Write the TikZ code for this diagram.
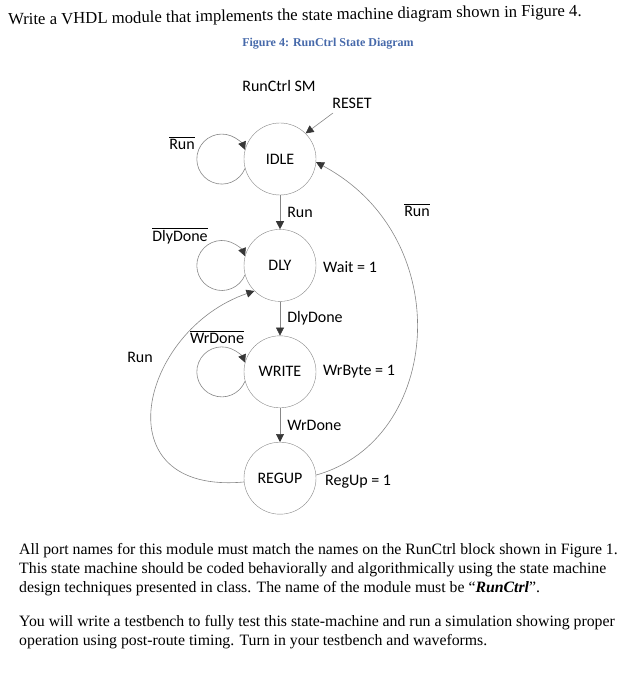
\documentclass[tikz,border=0pt]{standalone}
\usepackage{amsmath}
\usepackage{fontspec}
\setmainfont{Liberation Serif}
\newfontfamily\diagfont{Carlito}
\usetikzlibrary{arrows.meta,positioning}
\definecolor{figblue}{RGB}{70,105,170}
\definecolor{linegray}{RGB}{135,135,135}
\definecolor{tipgray}{RGB}{55,55,55}
\newcommand{\negsig}[1]{\ensuremath{\overline{\mbox{#1}}}}

\begin{document}
\begin{tikzpicture}[x=1pt, y=1pt,
  state/.style={draw=linegray, circle, minimum size=72pt, inner sep=0pt,
                font=\diagfont\fontsize{16}{19}\selectfont},
  lbl/.style={font=\diagfont\fontsize{16}{19}\selectfont, inner sep=1pt},
  arr/.style={draw=linegray, line width=0.6pt,
              -{Triangle[length=8pt, width=8pt, color=tipgray]}},
  prose/.style={font=\fontsize{15.8}{19.3}\selectfont, align=left, inner sep=0pt},
  node distance=34pt
]
\useasboundingbox (0,0) rectangle (629,-700);

% Task text
\node[anchor=west, rotate=0.9, font=\fontsize{16.7}{20}\selectfont, inner sep=0pt]
  (task) at (8,-21) {Write a VHDL module that implements the state machine diagram shown in Figure 4.};
\node[font=\bfseries\fontsize{12}{14}\selectfont, text=figblue] (cap) at (328,-44)
  {Figure 4: RunCtrl State Diagram};

% States
\node[lbl] (title) at (279,-86) {RunCtrl SM};
\node[state] (idle) at (280,-159) {IDLE};
\node[state, below=of idle] (dly) {DLY};
\node[state, below=of dly] (write) {WRITE};
\node[state, below=of write] (regup) {REGUP};

% Reset
\node[lbl] (reset) at (352,-103) {RESET};
\coordinate (rst) at (333,-113);
\draw[arr] (rst) -- (idle.45);

% Self loops
\draw[arr] (idle.195) arc[start angle=-21.8, end angle=-338.2, radius=25pt];
\draw[arr] (dly.195) arc[start angle=-21.8, end angle=-338.2, radius=25pt];
\draw[arr] (write.195) arc[start angle=-21.8, end angle=-338.2, radius=25pt];
\node[lbl] (lidle) at (182,-143) {\negsig{Run}};
\node[lbl] (ldly) at (180,-236) {\negsig{DlyDone}};
\node[lbl] (lwrite) at (217,-337) {\negsig{WrDone}};

% Transitions
\draw[arr] (idle) -- node[lbl, right=6pt] {Run} (dly);
\draw[arr] (dly) -- node[lbl, right=6pt] {DlyDone} (write);
\draw[arr] (write) -- node[lbl, right=6pt] {WrDone} (regup);
\draw[arr] (regup.186) .. controls (100,-495) and (140,-330) .. (dly.225);
\node[lbl] (lrun) at (140,-357) {Run};
\draw[arr] (regup.5) .. controls (442,-440) and (458,-238) .. (idle.-5);
\node[lbl] (lback) at (417,-210) {\negsig{Run}};

% Outputs
\node[lbl, anchor=west] (owait) at (322,-267) {Wait = 1};
\node[lbl, anchor=west] (obyte) at (322,-372) {WrByte = 1};
\node[lbl, anchor=west] (oreg) at (324,-482) {RegUp = 1};

% Prose
\node[prose, anchor=north west] (para1) at (19,-543)
  {All port names for this module must match the names on the RunCtrl block shown in Figure 1.\\
   This state machine should be coded behaviorally and algorithmically using the state machine\\
   design techniques presented in class. The name of the module must be
   ``\textbf{\textit{RunCtrl}}''.};
\node[prose, anchor=north west] (para2) at (19,-615)
  {You will write a testbench to fully test this state-machine and run a simulation showing proper\\
   operation using post-route timing. Turn in your testbench and waveforms.};
\end{tikzpicture}
\end{document}
